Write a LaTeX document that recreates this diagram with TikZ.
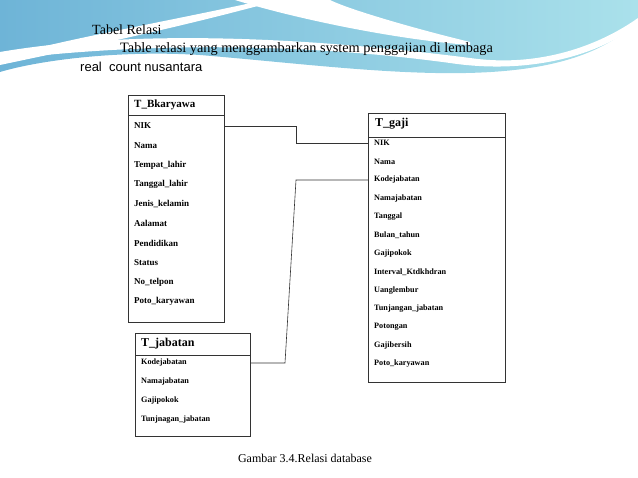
\documentclass[tikz,border=0pt]{standalone}
\usepackage{fontspec}
\setmainfont{Liberation Serif}
\newfontfamily\arialf{Liberation Sans}
\definecolor{wtop}{RGB}{110,180,215}
\definecolor{wbot}{RGB}{100,210,230}
\definecolor{wlight}{RGB}{170,225,235}
\begin{document}
\begin{tikzpicture}[x=1pt,y=-1pt,
  tbox/.style={draw=black!80,line width=0.6pt},
  row/.style={anchor=west,font=\fontsize{8.2}{9}\selectfont\bfseries,inner sep=0},
  rowb/.style={anchor=west,font=\fontsize{9}{10}\selectfont\bfseries,inner sep=0},
  head/.style={anchor=west,font=\fontsize{11}{12}\selectfont\bfseries,inner sep=0},
  headb/.style={anchor=west,font=\fontsize{12}{13}\selectfont\bfseries,inner sep=0},
  conn/.style={draw=black!80,line width=0.6pt}]
\useasboundingbox (0,0) rectangle (638,478);
% background waves
\shade[left color=wtop, right color=wlight] (0,0) -- (638,0) -- (638,20) .. controls (560,100) and (380,70) .. (200,55) .. controls (120,50) and (40,60) .. (0,72) -- cycle;
\fill[white] (0,58) .. controls (60,40) and (150,25) .. (265,0) -- (280,0) .. controls (170,30) and (80,48) .. (0,65) -- cycle;
\fill[white] (0,52) .. controls (100,35) and (250,30) .. (470,58) .. controls (540,68) and (600,45) .. (638,18) -- (638,24) .. controls (600,55) and (530,75) .. (450,63) .. controls (280,40) and (120,45) .. (0,60) -- cycle;
\fill[white] (235,0) .. controls (300,20) and (400,40) .. (470,45) -- (470,42) .. controls (420,30) and (350,10) .. (330,0) -- cycle;
% titles
\node[anchor=west,inner sep=0,font=\fontsize{14}{15}\selectfont] (t1) at (92,30) {Tabel Relasi};
\node[anchor=west,inner sep=0,font=\fontsize{14.3}{15}\selectfont] (t2) at (120,49) {Table relasi yang menggambarkan system penggajian di lembaga};
\node[anchor=west,inner sep=0,font=\arialf\fontsize{13}{15}\selectfont] (t3) at (80,67) {real\ \ count nusantara};
% T_Bkaryawa
\draw[tbox] (128,95) rectangle (224,322);
\draw[tbox] (128,115) -- (224,115);
\node[head] (kh) at (134,105) {T\_Bkaryawa};
\foreach \t [count=\i] in {NIK,Nama,Tempat\_lahir,Tanggal\_lahir,Jenis\_kelamin,Aalamat,Pendidikan,Status,No\_telpon,Poto\_karyawan}
  \node[rowb] (k\i) at (134,126+19.5*\i-19.5) {\t};
% T_gaji
\draw[tbox] (368,113) rectangle (505,382);
\draw[tbox] (368,137) -- (505,137);
\node[headb] (gh) at (375,124) {T\_gaji};
\foreach \t [count=\i] in {NIK,Nama,Kodejabatan,Namajabatan,Tanggal,Bulan\_tahun,Gajipokok,Interval\_Ktdkhdran,Uanglembur,Tunjangan\_jabatan,Potongan,Gajibersih,Poto\_karyawan}
  \node[row] (g\i) at (374,143+18.4*\i-18.4) {\t};
% T_jabatan
\draw[tbox] (135,333) rectangle (250,436);
\draw[tbox] (135,355) -- (250,355);
\node[headb] (jh) at (141,344) {T\_jabatan};
\foreach \t [count=\i] in {Kodejabatan,Namajabatan,Gajipokok,Tunjnagan\_jabatan}
  \node[row] (j\i) at (141,363+18.7*\i-18.7) {\t};
% connectors
\coordinate (a1) at (224,126); \coordinate (a2) at (368,143);
\draw[conn] (a1) -- (296,126) -- (296,143) -- (a2);
\coordinate (b1) at (368,180); \coordinate (b2) at (250,363);
\draw[conn] (b1) -- (296,180) -- (285,363) -- (b2);
% caption
\node[inner sep=0,font=\fontsize{12}{13}\selectfont] (cap) at (305,458) {Gambar 3.4.Relasi database};
\end{tikzpicture}
\end{document}
